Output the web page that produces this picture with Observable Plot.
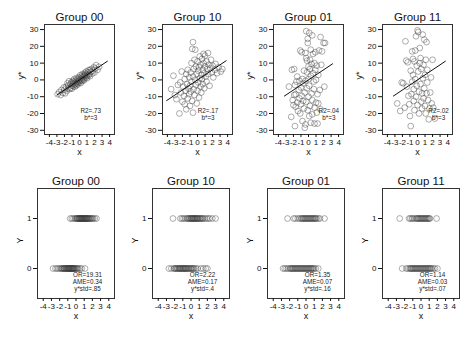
<!DOCTYPE html>
<html><head><meta charset="utf-8">
<script src="https://cdn.jsdelivr.net/npm/d3@7"></script>
<script src="https://cdn.jsdelivr.net/npm/@observablehq/plot@0.6"></script>
<style>
body{margin:0;background:#fff;}
#chart{position:relative;width:474px;height:338px;overflow:hidden;background:#fff;font-family:"Liberation Sans",Arial,sans-serif;}
#chart svg{position:absolute;}
</style></head><body><div id="chart"></div>
<script>
// ---------- data ----------
const groups = ["Group 00", "Group 10", "Group 01", "Group 11"];
const xTicks = [-4, -3, -2, -1, 0, 1, 2, 3, 4];
const yTicksTop = [-30, -20, -10, 0, 10, 20, 30];
const yTicksBottom = [0, 1];

// top row: latent y* vs x
const g00x = [-2.9,-2.7,-2.5,-2.4,-2.2,-2.1,-2.0,-1.9,-1.8,-1.7,-1.6,-1.5,-1.5,-1.4,-1.3,-1.2,-1.2,-1.1,-1.0,-1.0,-0.9,-0.9,-0.8,-0.8,-0.7,-0.7,-0.6,-0.6,-0.5,-0.5,-0.4,-0.4,-0.3,-0.3,-0.2,-0.2,-0.1,-0.1,0.0,0.0,0.1,0.1,0.2,0.2,0.3,0.3,0.4,0.4,0.5,0.5,0.6,0.6,0.7,0.7,0.8,0.8,0.9,0.9,1.0,1.0,1.1,1.2,1.2,1.3,1.4,1.4,1.5,1.6,1.7,1.8,1.9,2.0,2.1,2.2,2.4,2.6];
const g00y = [-8.5,-7.2,-9.0,-6.0,-7.8,-4.5,-5.8,-8.0,-4.2,-6.5,-2.0,-5.0,-3.2,-0.8,-5.5,-2.5,-4.8,-1.5,-3.5,-5.2,-2.0,-0.5,-3.8,-1.2,-2.8,0.5,-4.0,-1.8,-0.2,-2.5,1.2,-3.2,-0.8,-1.9,0.6,-2.6,1.5,-0.9,0.2,-1.5,2.8,-0.4,1.0,-1.8,2.2,0.0,3.5,-0.6,1.8,0.5,3.0,-0.2,2.4,4.2,1.2,3.3,2.0,5.0,3.0,1.0,4.5,2.5,5.8,3.5,6.0,2.2,4.8,6.5,3.8,5.5,7.5,4.5,6.8,8.8,6.0,7.8];

const g10x = [-3.5,-3.2,-3.0,-2.8,-2.6,-2.4,-2.3,-2.2,-2.1,-2.0,-1.9,-1.8,-1.7,-1.7,-1.6,-1.5,-1.5,-1.4,-1.3,-1.3,-1.2,-1.1,-1.1,-1.0,-1.0,-0.9,-0.9,-0.8,-0.8,-0.7,-0.7,-0.6,-0.6,-0.6,-0.5,-0.5,-0.4,-0.4,-0.3,-0.3,-0.2,-0.2,-0.1,-0.1,0.0,0.0,0.1,0.1,0.2,0.2,0.3,0.3,0.4,0.4,0.5,0.5,0.6,0.6,0.7,0.7,0.8,0.8,0.9,0.9,1.0,1.0,1.1,1.2,1.2,1.3,1.4,1.4,1.5,1.6,1.7,1.8,1.9,2.0,2.1,2.3,2.4,2.6,2.8,3.1,3.3];
const g10y = [-5.5,2.5,-9.0,-11.5,-3.0,-20.0,-1.5,-7.5,5.0,-13.0,-4.0,-9.5,-14.5,0.5,-6.5,-17.5,3.5,-2.5,-11.0,6.0,-5.0,-8.5,1.5,-15.5,-3.5,4.5,-7.0,10.0,-1.0,18.5,-12.5,22.5,-19.5,2.0,6.5,-5.5,12.0,-9.0,18.0,0.0,-3.0,8.0,-14.0,3.5,-6.5,11.0,-1.5,5.5,-10.5,7.5,1.0,14.0,-4.0,9.0,3.0,-7.5,12.5,0.5,6.0,-2.5,10.0,15.5,4.0,-5.0,8.0,14.5,2.0,11.0,-1.0,6.5,16.0,3.5,9.0,-3.5,7.0,12.0,4.5,8.5,1.5,6.0,9.5,4.0,7.5,5.0,6.5];

const g01x = [-2.6,-2.3,-2.2,-2.1,-2.0,-1.9,-1.9,-1.8,-1.8,-1.7,-1.7,-1.6,-1.5,-1.5,-1.4,-1.3,-1.2,-1.2,-1.1,-1.1,-1.0,-1.0,-0.9,-0.9,-0.8,-0.8,-0.7,-0.7,-0.6,-0.6,-0.5,-0.5,-0.4,-0.4,-0.4,-0.3,-0.3,-0.3,-0.2,-0.2,-0.2,-0.1,-0.1,-0.1,0.0,0.0,0.0,0.1,0.1,0.1,0.2,0.2,0.2,0.3,0.3,0.3,0.4,0.4,0.5,0.5,0.5,0.6,0.6,0.7,0.7,0.8,0.8,0.8,0.9,0.9,1.0,1.0,1.1,1.1,1.2,1.2,1.3,1.3,1.4,1.5,1.6,1.6,1.7,1.8,2.0,2.1,2.2];
const g01y = [-4.0,-22.0,6.0,-12.0,-15.0,6.5,-9.0,-27.5,-3.0,-16.0,-8.5,-1.0,-13.5,2.0,-18.5,-6.0,-11.0,-0.5,17.5,-20.0,-4.5,-14.5,16.5,-9.5,0.5,-24.5,-2.0,-12.5,-17.0,5.5,-7.5,-28.5,16.0,-26.5,-0.5,29.0,13.0,-13.0,11.5,4.5,-5.0,24.5,22.0,-18.0,8.0,-10.0,0.5,28.0,-21.5,-3.5,12.0,6.5,-15.5,-25.5,2.5,18.0,-8.0,9.5,26.5,-20.5,-12.0,4.0,15.5,-5.5,-1.0,-26.0,10.0,-16.5,16.5,6.0,-13.5,0.0,-19.5,8.5,-8.5,-26.0,3.0,-14.0,17.5,-6.0,25.5,-17.5,9.0,17.0,22.0,-4.0,22.0];

const g11x = [-2.7,-2.3,-2.1,-1.9,-1.7,-1.6,-1.5,-1.4,-1.3,-1.2,-1.1,-1.0,-0.9,-0.9,-0.8,-0.7,-0.7,-0.6,-0.6,-0.5,-0.5,-0.4,-0.4,-0.3,-0.3,-0.2,-0.2,-0.1,-0.1,0.0,0.0,0.1,0.1,0.2,0.2,0.3,0.3,0.4,0.4,0.5,0.5,0.6,0.6,0.7,0.7,0.8,0.8,0.9,0.9,1.0,1.0,1.1,1.1,1.2,1.2,1.3,1.3,1.4,1.5,1.6,1.7,1.8,1.9,2.0,2.1,2.3];
const g11y = [-14.0,-18.5,-1.5,-2.0,-16.5,23.0,11.5,-4.0,10.5,-9.5,-14.5,-21.5,-27.5,5.5,-8.5,-1.0,17.0,12.5,3.0,-12.5,-5.5,11.0,-18.0,0.5,17.5,-10.0,26.0,-3.5,8.5,29.5,-15.0,5.0,28.5,-7.0,-20.0,10.0,19.0,-2.5,13.0,-13.0,6.5,-8.0,-17.0,1.0,27.0,-11.0,9.0,24.0,-5.0,-15.5,3.0,12.0,-20.0,-8.0,22.5,-1.5,6.0,-12.0,-23.5,-17.0,-7.5,1.5,-14.0,12.0,-16.5,-23.0];

// fitted line endpoints (x, y*)
const fit00x = [-3.0, 3.7], fit00y = [-9.0, 11.1];
const fit10x = [-4.1, 3.8], fit10y = [-12.3, 11.4];
const fit01x = [-3.2, 3.2], fit01y = [-9.6, 9.6];
const fit11x = [-3.2, 3.7], fit11y = [-9.6, 11.1];

const r2Labels = ["R2=.73", "R2=.17", "R2=.04", "R2=.02"];
const bLabels = ["b*=3", "b*=3", "b*=3", "b*=3"];

// bottom row: binary Y vs x
const b00y1 = [-0.7,-0.5,-0.3,-0.1,0.0,0.1,0.15,0.2,0.3,0.35,0.4,0.45,0.5,0.55,0.6,0.65,0.7,0.75,0.8,0.85,0.9,0.95,1.0,1.05,1.1,1.15,1.2,1.25,1.3,1.35,1.4,1.5,1.55,1.6,1.7,1.8,1.9,2.0,2.1,2.3,2.5];
const b00y0 = [-2.8,-2.5,-2.3,-2.1,-1.9,-1.8,-1.7,-1.6,-1.5,-1.45,-1.4,-1.3,-1.25,-1.2,-1.1,-1.05,-1.0,-0.95,-0.9,-0.85,-0.8,-0.75,-0.7,-0.65,-0.6,-0.55,-0.5,-0.45,-0.4,-0.35,-0.3,-0.25,-0.2,-0.1,0.0,0.1,0.2,0.3,0.5,0.7,1.1];
const b10y1 = [-2.2,-1.3,-1.1,-0.9,-0.7,-0.5,-0.4,-0.3,-0.2,-0.1,0.0,0.05,0.1,0.2,0.25,0.3,0.4,0.45,0.5,0.6,0.7,0.75,0.8,0.9,1.0,1.1,1.2,1.3,1.4,1.5,1.7,1.9,2.1,2.3,2.6,3.0];
const b10y0 = [-2.7,-2.4,-2.1,-2.0,-1.9,-1.8,-1.7,-1.6,-1.5,-1.4,-1.35,-1.3,-1.2,-1.1,-1.0,-0.95,-0.9,-0.8,-0.7,-0.65,-0.6,-0.5,-0.4,-0.3,-0.2,-0.1,0.0,0.1,0.2,0.3,0.4,0.6,0.8,1.2,1.5,1.8,2.0];
const b01y1 = [-2.25,-1.5,-1.3,-1.0,-0.8,-0.6,-0.5,-0.4,-0.3,-0.2,-0.1,0.0,0.1,0.2,0.3,0.4,0.5,0.6,0.7,0.8,0.9,1.0,1.1,1.2,1.3,1.5,1.7,2.26];
const b01y0 = [-2.8,-2.6,-2.4,-2.2,-2.0,-1.9,-1.8,-1.7,-1.6,-1.5,-1.4,-1.3,-1.2,-1.1,-1.0,-0.9,-0.8,-0.7,-0.6,-0.5,-0.4,-0.3,-0.2,-0.1,0.0,0.1,0.2,0.3,0.4,0.5,0.6,0.7,0.8,0.9,1.0,1.2,1.5];
const b11y1 = [-2.6,-1.45,-1.3,-1.1,-1.0,-0.8,-0.6,-0.5,-0.4,-0.3,-0.2,-0.1,0.0,0.1,0.2,0.3,0.4,0.5,0.6,0.7,0.8,0.9,1.0,1.1,1.9];
const b11y0 = [-2.3,-1.8,-1.6,-1.4,-1.3,-1.2,-1.1,-1.0,-0.9,-0.8,-0.7,-0.6,-0.5,-0.4,-0.3,-0.2,-0.1,0.0,0.1,0.2,0.3,0.4,0.5,0.6,0.7,0.8,0.9,1.0,1.1,1.2,1.3,1.5,1.7,2.0];

const orLabels = ["OR=19.31", "OR=2.22", "OR=1.35", "OR=1.14"];
const ameLabels = ["AME=0.34", "AME=0.17", "AME=0.07", "AME=0.03"];
const stdLabels = ["y*std=.85", "y*std=.4", "y*std=.16", "y*std=.07"];

// ---------- drawing ----------
const chart = document.getElementById("chart");
const FONT = "'Liberation Sans', Arial, Helvetica, sans-serif";
const toRows = (xs, ys) => xs.map((x, i) => ({x, y: ys[i]}));
const circleStyle = {r: 2.9, fill: "none", stroke: "#3a3a3a", strokeOpacity: 0.6, strokeWidth: 0.7};

function place(svg, left, top) {
  svg.style.left = left + "px";
  svg.style.top = top + "px";
  chart.appendChild(svg);
}

function panel({left, top, w, h, xd, yd, yTicks, ylab, ylabDx, title, marks}) {
  const ml = 42, mr = 8, mt = 24, mb = 42;
  const svg = Plot.plot({
    width: w + ml + mr, height: h + mt + mb,
    marginLeft: ml, marginRight: mr, marginTop: mt, marginBottom: mb,
    x: {domain: xd}, y: {domain: yd},
    style: {fontFamily: FONT, background: "transparent", overflow: "visible", color: "#111"},
    marks: [
      Plot.frame({stroke: "#333", strokeWidth: 1}),
      Plot.axisY(yTicks, {tickSize: 4, tickPadding: 2, fontSize: 8, label: null, tickFormat: d => String(d)}),
      Plot.axisX(xTicks, {tickSize: 3, tickPadding: 1.5, fontSize: 8, label: null, tickFormat: d => String(d)}),
      ...marks,
      Plot.text([title], {frameAnchor: "top", dy: -4, lineAnchor: "bottom", fontSize: 11.5}),
      Plot.text(["x"], {frameAnchor: "bottom", dy: 20, lineAnchor: "bottom", fontSize: 9}),
      Plot.text([ylab], {frameAnchor: "left", dx: ylabDx, rotate: -90, lineAnchor: "middle", fontSize: 9})
    ]
  });
  place(svg, left - ml, top - mt);
}

const topX = [g00x, g10x, g01x, g11x];
const topY = [g00y, g10y, g01y, g11y];
const fitX = [fit00x, fit10x, fit01x, fit11x];
const fitY = [fit00y, fit10y, fit01y, fit11y];
const topLeft = [44, 162, 273, 382];
const annTopX = [1.5, 1.4, 2.7, 2.8];

groups.forEach((g, i) => {
  panel({
    left: topLeft[i], top: 24, w: 70, h: 110,
    xd: [-4.65, 4.65], yd: [-32.5, 33], yTicks: yTicksTop,
    ylab: "y*", ylabDx: -23, title: g,
    marks: [
      Plot.dot(toRows(topX[i], topY[i]), {x: "x", y: "y", ...circleStyle}),
      Plot.line(toRows(fitX[i], fitY[i]), {x: "x", y: "y", stroke: "#111", strokeWidth: 1}),
      Plot.text([{x: annTopX[i], y: -18.5, t: r2Labels[i]}, {x: annTopX[i], y: -22.5, t: bLabels[i]}],
        {x: "x", y: "y", text: "t", fontSize: 6.3, fill: "#222"})
    ]
  });
});

const botY1 = [b00y1, b10y1, b01y1, b11y1];
const botY0 = [b00y0, b10y0, b01y0, b11y0];
const botLeft = [37, 152, 267, 382];
groups.forEach((g, i) => {
  const rows = botY0[i].map(x => ({x, y: 0})).concat(botY1[i].map(x => ({x, y: 1})));
  panel({
    left: botLeft[i], top: 188, w: 77, h: 110,
    xd: [-4.7, 4.7], yd: [-0.6, 1.6], yTicks: yTicksBottom,
    ylab: "Y", ylabDx: -17, title: g,
    marks: [
      Plot.dot(rows, {x: "x", y: "y", ...circleStyle}),
      Plot.text([{y: -0.13, t: orLabels[i]}, {y: -0.265, t: ameLabels[i]}, {y: -0.4, t: stdLabels[i]}],
        {x: () => 1.4, y: "y", text: "t", fontSize: 6.3, fill: "#222"})
    ]
  });
});
</script></body></html>
